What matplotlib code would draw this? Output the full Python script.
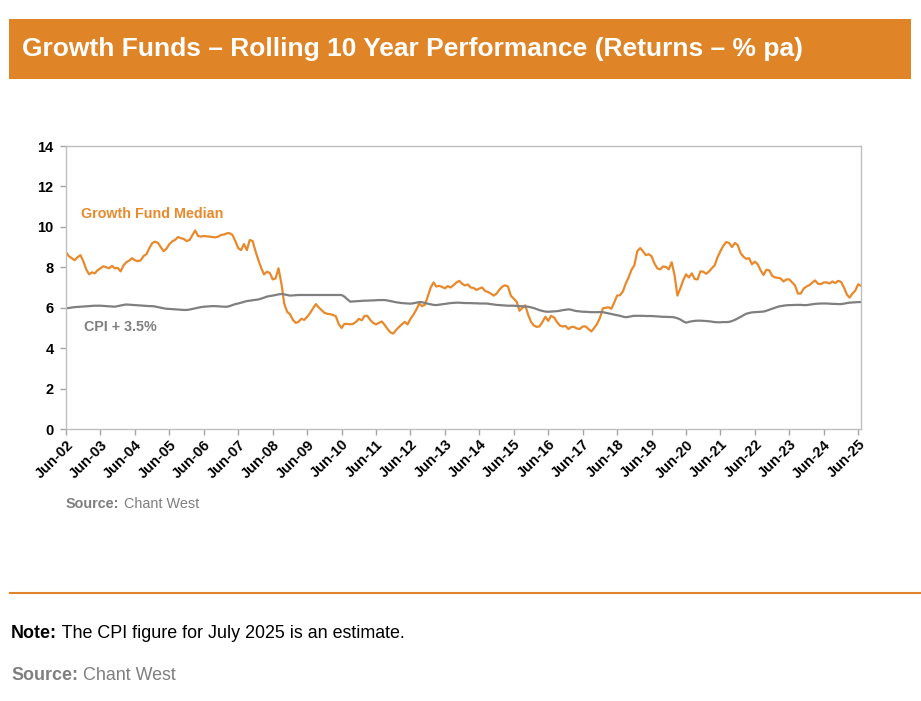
import numpy as np
import pandas as pd
import matplotlib
matplotlib.use("Agg")
import matplotlib.pyplot as plt
import matplotlib.dates as mdates
from matplotlib.patches import Rectangle

plt.rcParams['font.family'] = ['Liberation Sans', 'DejaVu Sans']

ORANGE = '#DF8427'
LINE_ORANGE = '#E8892B'
GREY = '#7F7F7F'

# rolling 10 year returns, monthly from Jun-02 to Jul-25 (% pa)
growth_median = [
    8.75, 8.55, 8.45, 8.35, 8.5, 8.6, 8.3, 7.9, 7.65, 7.75, 7.7, 7.85,
    7.95, 8.05, 8.0, 7.95, 8.07, 7.95, 7.97, 7.8, 8.1, 8.25, 8.33, 8.45,
    8.35, 8.3, 8.35, 8.56, 8.65, 8.95, 9.2, 9.27, 9.2, 9.0, 8.8, 8.92,
    9.15, 9.28, 9.36, 9.5, 9.44, 9.4, 9.3, 9.35, 9.6, 9.82, 9.55, 9.52,
    9.55, 9.53, 9.52, 9.5, 9.48, 9.52, 9.6, 9.62, 9.68, 9.69, 9.6, 9.3,
    8.95, 8.85, 9.15, 8.85, 9.35, 9.3, 8.8, 8.35, 7.95, 7.65, 7.78, 7.72,
    7.4, 7.45, 7.95, 7.2, 6.2, 5.8, 5.68, 5.4, 5.25, 5.3, 5.45, 5.4,
    5.55, 5.73, 5.95, 6.18, 6.02, 5.88, 5.75, 5.7, 5.68, 5.64, 5.58, 5.2,
    5.0, 5.2, 5.2, 5.18, 5.2, 5.3, 5.45, 5.38, 5.6, 5.6, 5.4, 5.25,
    5.18, 5.25, 5.32, 5.15, 4.95, 4.78, 4.72, 4.9, 5.05, 5.18, 5.3, 5.18,
    5.45, 5.65, 5.9, 6.2, 6.08, 6.15, 6.55, 7.0, 7.25, 7.05, 7.08, 7.03,
    6.96, 7.07, 7.0, 7.12, 7.25, 7.33, 7.18, 7.1, 7.15, 7.0, 6.98, 6.88,
    6.95, 7.0, 6.83, 6.78, 6.7, 6.6, 6.7, 6.9, 7.05, 7.11, 7.05, 6.6,
    6.45, 6.3, 5.85, 6.0, 6.12, 5.65, 5.3, 5.12, 5.05, 5.08, 5.3, 5.55,
    5.35, 5.6, 5.52, 5.3, 5.12, 5.07, 5.1, 4.95, 5.05, 5.05, 4.97, 4.95,
    5.07, 5.08, 4.95, 4.83, 5.0, 5.2, 5.5, 5.97, 6.0, 6.02, 5.95, 6.25,
    6.6, 6.62, 6.8, 7.2, 7.5, 7.88, 8.1, 8.8, 8.95, 8.8, 8.6, 8.65,
    8.55, 8.2, 7.95, 7.9, 8.04, 8.02, 7.9, 8.25, 7.6, 6.6, 6.95, 7.35,
    7.65, 7.5, 7.7, 7.42, 7.4, 7.8, 7.78, 7.68, 7.8, 7.95, 8.1, 8.5,
    8.8, 9.06, 9.25, 9.2, 9.0, 9.2, 9.1, 8.7, 8.52, 8.42, 8.45, 8.15,
    8.28, 8.15, 7.85, 7.62, 7.88, 7.85, 7.58, 7.5, 7.48, 7.45, 7.3, 7.4,
    7.4, 7.25, 7.1, 6.7, 6.7, 6.95, 7.05, 7.12, 7.25, 7.35, 7.18, 7.17,
    7.25, 7.25, 7.2, 7.3, 7.22, 7.33, 7.28, 7.0, 6.65, 6.5, 6.7, 6.85,
    7.16, 7.08,
]

cpi_plus = [
    5.97, 5.99, 6.01, 6.03, 6.04, 6.05, 6.06, 6.07, 6.08, 6.09, 6.1, 6.1,
    6.1, 6.09, 6.08, 6.07, 6.06, 6.05, 6.08, 6.11, 6.14, 6.16, 6.15, 6.14,
    6.13, 6.12, 6.11, 6.1, 6.09, 6.08, 6.08, 6.06, 6.03, 6.0, 5.97, 5.95,
    5.94, 5.93, 5.92, 5.91, 5.9, 5.89, 5.89, 5.91, 5.94, 5.97, 6.0, 6.03,
    6.05, 6.06, 6.07, 6.08, 6.08, 6.07, 6.06, 6.05, 6.05, 6.08, 6.13, 6.18,
    6.21, 6.25, 6.29, 6.33, 6.35, 6.37, 6.39, 6.41, 6.45, 6.5, 6.55, 6.58,
    6.6, 6.63, 6.66, 6.68, 6.66, 6.63, 6.6, 6.61, 6.62, 6.63, 6.63, 6.63,
    6.63, 6.63, 6.63, 6.63, 6.63, 6.63, 6.63, 6.63, 6.63, 6.63, 6.63, 6.63,
    6.63, 6.55, 6.42, 6.3, 6.31, 6.32, 6.33, 6.34, 6.35, 6.35, 6.36, 6.36,
    6.37, 6.38, 6.38, 6.38, 6.36, 6.33, 6.3, 6.27, 6.25, 6.23, 6.22, 6.21,
    6.2, 6.22, 6.25, 6.28, 6.27, 6.24, 6.2, 6.17, 6.14, 6.13, 6.15, 6.17,
    6.19, 6.21, 6.23, 6.24, 6.25, 6.25, 6.24, 6.23, 6.23, 6.23, 6.22, 6.22,
    6.21, 6.21, 6.21, 6.2, 6.18, 6.16, 6.14, 6.13, 6.12, 6.11, 6.1, 6.1,
    6.1, 6.09, 6.08, 6.07, 6.06, 6.05, 6.02, 5.98, 5.93, 5.88, 5.84, 5.81,
    5.8, 5.81, 5.82, 5.83, 5.85, 5.88, 5.9, 5.92, 5.9, 5.86, 5.83, 5.82,
    5.8, 5.8, 5.79, 5.78, 5.78, 5.78, 5.79, 5.78, 5.75, 5.72, 5.69, 5.66,
    5.63, 5.6, 5.56, 5.53, 5.55, 5.58, 5.6, 5.6, 5.6, 5.6, 5.59, 5.59,
    5.59, 5.58, 5.57, 5.56, 5.55, 5.55, 5.54, 5.54, 5.52, 5.48, 5.42, 5.33,
    5.26, 5.3, 5.33, 5.35, 5.36, 5.36, 5.35, 5.34, 5.33, 5.31, 5.29, 5.28,
    5.28, 5.29, 5.29, 5.3, 5.34, 5.4, 5.47, 5.55, 5.63, 5.7, 5.74, 5.77,
    5.78, 5.79, 5.8, 5.81, 5.85, 5.9, 5.95, 6.0, 6.05, 6.08, 6.1, 6.12,
    6.13, 6.13, 6.14, 6.14, 6.14, 6.13, 6.13, 6.15, 6.17, 6.19, 6.2, 6.21,
    6.21, 6.21, 6.2, 6.19, 6.19, 6.18, 6.18, 6.2, 6.23, 6.25, 6.26, 6.27,
    6.28, 6.28,
]

dates = pd.date_range('2002-06-01', periods=len(growth_median), freq='MS')
y_ticks = [0, 2, 4, 6, 8, 10, 12, 14]

fig = plt.figure(figsize=(9.21, 7.01), dpi=100)

# title banner
fig.patches.append(Rectangle((0.0098, 0.887), 0.979, 0.086, transform=fig.transFigure,
                             facecolor=ORANGE, edgecolor='none', zorder=0))
fig.text(0.024, 0.930, 'Growth Funds \u2013 Rolling 10 Year Performance (Returns \u2013 % pa)',
         color='white', fontsize=19, fontweight='bold', va='center', ha='left')

ax = fig.add_axes([0.0717, 0.388, 0.8632, 0.4037])
ax.plot(dates, growth_median, color=LINE_ORANGE, lw=1.6)
ax.plot(dates, cpi_plus, color=GREY, lw=1.6)

ax.set_ylim(0, 14)
ax.set_yticks(y_ticks)
ax.set_xlim(dates[0], dates[-1])
ax.xaxis.set_major_locator(mdates.MonthLocator(bymonth=6))
ax.xaxis.set_major_formatter(mdates.DateFormatter('%b-%y'))

for s in ax.spines.values():
    s.set_color('#BFBFBF')
    s.set_linewidth(1)
ax.tick_params(axis='both', length=4, color='#A6A6A6', width=1)
ax.tick_params(axis='y', labelsize=10.5, pad=5)
ax.tick_params(axis='x', labelsize=10.5, pad=2)
for lab in ax.get_yticklabels():
    lab.set_fontweight('bold')
for lab in ax.get_xticklabels():
    lab.set_fontweight('bold')
    lab.set_rotation(45)
    lab.set_ha('right')
    lab.set_rotation_mode('anchor')

ax.text(0.019, 0.76, 'Growth Fund Median', transform=ax.transAxes, color=LINE_ORANGE,
        fontsize=10.3, fontweight='bold', va='center', ha='left')
ax.text(0.023, 0.36, 'CPI + 3.5%', transform=ax.transAxes, color=GREY,
        fontsize=10.3, fontweight='bold', va='center', ha='left')

# source under chart
t1 = fig.text(0.0717, 0.281, 'Source:', color=GREY, fontsize=10.4, fontweight='bold', va='center')
ax.annotate(' Chant West', xy=(1, 0), xycoords=t1, color=GREY, fontsize=10.4, va='bottom')

# separator line and footnotes
fig.add_artist(plt.Line2D([0.011, 1.0], [0.154, 0.154], transform=fig.transFigure,
                          color=ORANGE, lw=1.5))
t2 = fig.text(0.012, 0.097, 'Note:', color='black', fontsize=12.9, fontweight='bold', va='center')
ax.annotate(' The CPI figure for July 2025 is an estimate.', xy=(1, 0), xycoords=t2,
            color='black', fontsize=12.9, va='bottom')
t3 = fig.text(0.012, 0.037, 'Source:', color=GREY, fontsize=12.9, fontweight='bold', va='center')
ax.annotate(' Chant West', xy=(1, 0), xycoords=t3, color=GREY, fontsize=12.9, va='bottom')

fig.savefig('out.png', dpi=100)
